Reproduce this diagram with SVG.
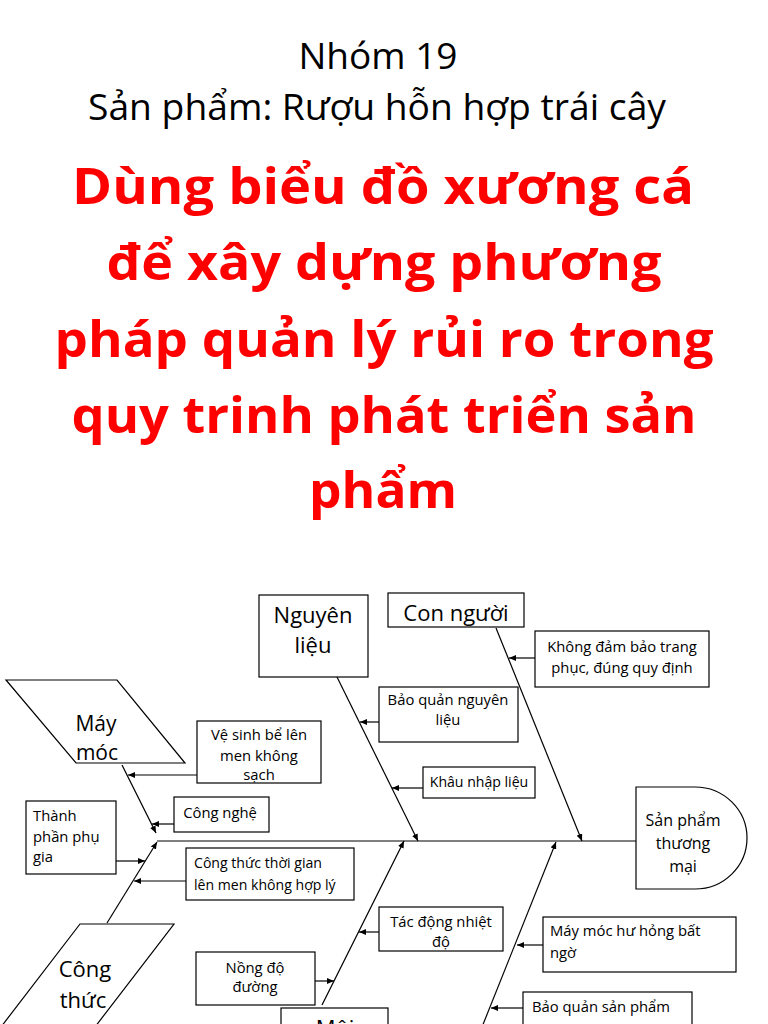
<svg xmlns="http://www.w3.org/2000/svg" width="768" height="1024" viewBox="0 0 768 1024">
<style>
  .t { font-family: "Open Sans", "Noto Sans", "DejaVu Sans", sans-serif; fill: #000; }
  .hd { font-size: 36px; }
  .red { font-family: "Open Sans", "Noto Sans", sans-serif; font-weight: bold; font-size: 50px; fill: #FF0000; }
  .big { font-size: 22px; }
  .mm { font-size: 21px; }
  .sm { font-size: 14.8px; }
  .sm2 { font-size: 14.1px; }
  .sp { font-size: 16px; }
  .box { fill: #fff; stroke: #000; stroke-width: 1.2; }
  .ln { stroke: #000; stroke-width: 1.2; fill: none; }
  .mid { text-anchor: middle; }
</style>
<defs>
  <marker id="ah" markerWidth="8" markerHeight="6" refX="7" refY="3" orient="auto" markerUnits="userSpaceOnUse">
    <path d="M0,0 L7,3 L0,6 z" fill="#000"/>
  </marker>
</defs>
<rect width="768" height="1024" fill="#fff"/>

<g id="title">
  <text class="t hd mid" x="378" y="69" textLength="159" lengthAdjust="spacingAndGlyphs">Nhóm 19</text>
  <text class="t hd mid" x="377" y="120" textLength="578" lengthAdjust="spacingAndGlyphs">Sản phẩm: Rượu hỗn hợp trái cây</text>
  <text class="red mid" x="383" y="204" textLength="622" lengthAdjust="spacingAndGlyphs">Dùng biểu đồ xương cá</text>
  <text class="red mid" x="384" y="280" textLength="555" lengthAdjust="spacingAndGlyphs">để xây dựng phương</text>
  <text class="red mid" x="384" y="357" textLength="659" lengthAdjust="spacingAndGlyphs">pháp quản lý rủi ro trong</text>
  <text class="red mid" x="384" y="433" textLength="625" lengthAdjust="spacingAndGlyphs">quy trinh phát triển sản</text>
  <text class="red mid" x="383" y="508" textLength="148" lengthAdjust="spacingAndGlyphs">phẩm</text>
</g>

<g id="connectors">
  <line class="ln" x1="157" y1="841" x2="636" y2="841"/>
  <line class="ln" x1="337" y1="677" x2="418" y2="841" marker-end="url(#ah)"/>
  <line class="ln" x1="496" y1="628" x2="582" y2="841" marker-end="url(#ah)"/>
  <line class="ln" x1="122" y1="765" x2="156" y2="833" marker-end="url(#ah)"/>
  <line class="ln" x1="107" y1="923" x2="157" y2="842" marker-end="url(#ah)"/>
  <line class="ln" x1="322" y1="1005" x2="404" y2="841" marker-end="url(#ah)"/>
  <line class="ln" x1="476" y1="1042" x2="556" y2="842" marker-end="url(#ah)"/>
  <line class="ln" x1="535" y1="658" x2="509" y2="658" marker-end="url(#ah)"/>
  <line class="ln" x1="379" y1="722" x2="360" y2="722" marker-end="url(#ah)"/>
  <line class="ln" x1="423" y1="788" x2="392" y2="788" marker-end="url(#ah)"/>
  <line class="ln" x1="197" y1="775" x2="128" y2="775" marker-end="url(#ah)"/>
  <line class="ln" x1="174" y1="824" x2="152" y2="824" marker-end="url(#ah)"/>
  <line class="ln" x1="116" y1="861" x2="145" y2="861" marker-end="url(#ah)"/>
  <line class="ln" x1="186" y1="881" x2="134" y2="881" marker-end="url(#ah)"/>
  <line class="ln" x1="315" y1="981" x2="334" y2="981" marker-end="url(#ah)"/>
  <line class="ln" x1="379" y1="932" x2="359" y2="932" marker-end="url(#ah)"/>
  <line class="ln" x1="543" y1="945" x2="517" y2="945" marker-end="url(#ah)"/>
  <line class="ln" x1="523" y1="1008" x2="491" y2="1008" marker-end="url(#ah)"/>
</g>

<g id="nguyen-lieu">
  <rect class="box" x="259" y="595" width="109" height="82"/>
  <text class="t big mid" x="313" y="623">Nguyên</text>
  <text class="t big mid" x="313" y="653">liệu</text>
</g>
<g id="con-nguoi">
  <rect class="box" x="388" y="593" width="136" height="34"/>
  <text class="t big mid" x="456" y="621">Con người</text>
</g>
<g id="khong-dam-bao">
  <rect class="box" x="535" y="631" width="174" height="56"/>
  <text class="t sm mid" x="622" y="652">Không đảm bảo trang</text>
  <text class="t sm mid" x="622" y="673">phục, đúng quy định</text>
</g>
<g id="bao-quan-nl">
  <rect class="box" x="379" y="687" width="139" height="55"/>
  <text class="t sm mid" x="448" y="705">Bảo quản nguyên</text>
  <text class="t sm mid" x="448" y="725">liệu</text>
</g>
<g id="khau-nhap-lieu">
  <rect class="box" x="423" y="767" width="112" height="31"/>
  <text class="t sm2 mid" x="479" y="787">Khâu nhập liệu</text>
</g>
<g id="may-moc">
  <polygon class="box" points="6,680 117,680 185,763 76,763"/>
  <text class="t mm mid" x="96" y="731">Máy</text>
  <text class="t mm mid" x="97" y="760">móc</text>
</g>
<g id="ve-sinh">
  <rect class="box" x="197" y="721" width="124" height="62"/>
  <text class="t sm mid" x="259" y="740">Vệ sinh bể lên</text>
  <text class="t sm mid" x="259" y="761">men không</text>
  <text class="t sm mid" x="259" y="780">sạch</text>
</g>
<g id="cong-nghe">
  <rect class="box" x="174" y="797" width="95" height="35"/>
  <text class="t sm mid" x="220" y="818">Công nghệ</text>
</g>
<g id="thanh-phan">
  <rect class="box" x="26" y="801" width="90" height="73"/>
  <text class="t sm" x="33" y="821">Thành</text>
  <text class="t sm" x="33" y="842">phần phụ</text>
  <text class="t sm" x="33" y="862">gia</text>
</g>
<g id="cong-thuc-thoi-gian">
  <rect class="box" x="186" y="848" width="168" height="52"/>
  <text class="t sm2" x="194" y="868">Công thức thời gian</text>
  <text class="t sm2" x="194" y="890">lên men không hợp lý</text>
</g>
<g id="cong-thuc">
  <polygon class="box" points="80,924 174,924 85,1040 -9,1040"/>
  <text class="t big mid" x="85" y="977">Công</text>
  <text class="t big mid" x="83" y="1008">thức</text>
</g>
<g id="moi-truong">
  <rect class="box" x="281" y="1008" width="107" height="40"/>
  <text class="t big mid" x="335" y="1036">Môi</text>
</g>
<g id="nong-do">
  <rect class="box" x="196" y="952" width="119" height="53"/>
  <text class="t sm mid" x="255" y="973">Nồng độ</text>
  <text class="t sm mid" x="255" y="992">đường</text>
</g>
<g id="tac-dong">
  <rect class="box" x="379" y="907" width="124" height="44"/>
  <text class="t sm mid" x="441" y="927">Tác động nhiệt</text>
  <text class="t sm mid" x="441" y="947">độ</text>
</g>
<g id="may-moc-hu-hong">
  <rect class="box" x="543" y="917" width="193" height="55"/>
  <text class="t sm" x="550" y="936">Máy móc hư hỏng bất</text>
  <text class="t sm" x="550" y="958">ngờ</text>
</g>
<g id="bao-quan-sp">
  <rect class="box" x="523" y="992" width="169" height="44"/>
  <text class="t sm" x="532" y="1012">Bảo quản sản phẩm</text>
</g>
<g id="san-pham">
  <path class="box" d="M636,787 H695 A52,51 0 0 1 695,889 H636 Z"/>
  <text class="t sp mid" x="683" y="826">Sản phẩm</text>
  <text class="t sp mid" x="683" y="849">thương</text>
  <text class="t sp mid" x="683" y="872">mại</text>
</g>
</svg>
